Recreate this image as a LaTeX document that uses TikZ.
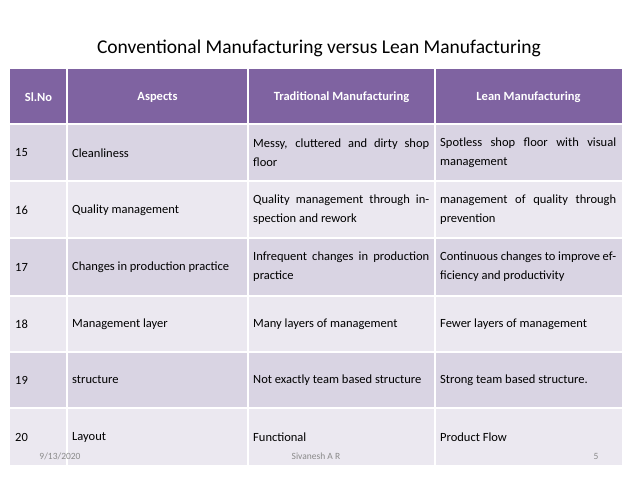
\documentclass[tikz,border=0pt]{standalone}
\usepackage{fontspec}
\setmainfont{Carlito}
\usepackage{ragged2e}
\definecolor{hdr}{HTML}{7F63A1}
\definecolor{rowA}{HTML}{D9D4E3}
\definecolor{rowB}{HTML}{EBE8F0}
\definecolor{foot}{HTML}{8A8A8A}
\tikzset{
  cell/.style={anchor=west,inner sep=0pt,font=\fontsize{12.5}{19}\selectfont},
  jcell/.style={cell,text width=176pt,align=justify},
  hcell/.style={anchor=center,inner sep=0pt,text=white,font=\fontsize{12.5}{15}\selectfont\bfseries},
  foottext/.style={text=foot,inner sep=0pt,font=\fontsize{9.5}{11}\selectfont}
}
\begin{document}
\begin{tikzpicture}[x=1pt,y=-1pt]
\useasboundingbox (0,0) rectangle (638,478);
\fill[white] (0,0) rectangle (638,478);
\node[inner sep=0pt,font=\fontsize{19.5}{22}\selectfont] (title) at (319,48) {Conventional Manufacturing versus Lean Manufacturing};
% backgrounds
\fill[hdr] (10,69) rectangle (622,124);
\foreach \t/\b/\c in {124/181/rowA,181/238/rowB,238/296/rowA,296/352/rowB,352/408/rowA,408/465/rowB}{
  \fill[\c] (10,\t) rectangle (622,\b);
}
\foreach \y in {124,181,238,296,352,408}{ \draw[white,line width=2pt] (10,\y) -- (622,\y); }
\foreach \x in {67,248,435}{ \draw[white,line width=1.5pt] (\x,69) -- (\x,465); }
% header
\node[hcell] (h1) at (38.5,97) {Sl.No};
\node[hcell] (h2) at (157.5,97) {Aspects};
\node[hcell] (h3) at (341.5,97) {Traditional Manufacturing};
\node[hcell] (h4) at (528.5,97) {Lean Manufacturing};
% rows
\node[cell] (a1) at (15,153) {15};
\node[cell] (b1) at (72,153) {Cleanliness};
\node[jcell] (c1) at (253,153) {Messy, cluttered and dirty shop floor};
\node[jcell] (d1) at (440,153) {Spotless shop floor with visual management};
\node[cell] (a2) at (15,210) {16};
\node[cell] (b2) at (72,210) {Quality management};
\node[jcell] (c2) at (253,210) {Quality management through inspection and rework};
\node[jcell] (d2) at (440,210) {management of quality through prevention};
\node[cell] (a3) at (15,267) {17};
\node[cell,text width=171pt,align=justify] (b3) at (72,267) {Changes in production practice};
\node[jcell] (c3) at (253,267) {Infrequent changes in production practice};
\node[jcell] (d3) at (440,267) {Continuous changes to improve efficiency and productivity};
\node[cell] (a4) at (15,324) {18};
\node[cell] (b4) at (72,324) {Management layer};
\node[jcell] (c4) at (253,324) {Many layers of management};
\node[jcell] (d4) at (440,324) {Fewer layers of management};
\node[cell] (a5) at (15,380) {19};
\node[cell] (b5) at (72,380) {structure};
\node[jcell] (c5) at (253,380) {Not exactly team based structure};
\node[jcell] (d5) at (440,380) {Strong team based structure.};
\node[cell] (a6) at (15,437) {20};
\node[cell] (b6) at (72,437) {Layout};
\node[jcell] (c6) at (253,437) {Functional};
\node[jcell] (d6) at (440,437) {Product Flow};
% footer
\node[foottext] (f1) at (60,456) {9/13/2020};
\node[foottext] (f2) at (316,456) {Sivanesh A R};
\node[foottext] (f3) at (596,456) {5};
\end{tikzpicture}
\end{document}
